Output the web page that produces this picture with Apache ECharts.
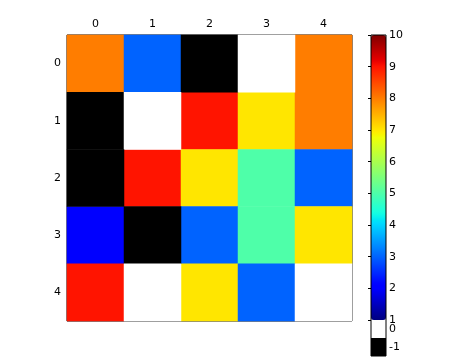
<!DOCTYPE html>
<html>
<head>
<meta charset="utf-8">
<script src="https://cdn.jsdelivr.net/npm/echarts@6/dist/echarts.min.js"></script>
<style>
html,body{margin:0;padding:0;background:#fff;}
#chart{width:474px;height:357px;}
</style>
</head>
<body>
<div id="chart"></div>
<script>
var cols = ['0', '1', '2', '3', '4'];
var rows = ['0', '1', '2', '3', '4'];
// matrix values, -1 = black, 0 = white
var row0 = [8, 3, -1, 0, 8];
var row1 = [-1, 0, 9, 7, 8];
var row2 = [-1, 9, 7, 5, 3];
var row3 = [2, -1, 3, 5, 7];
var row4 = [9, 0, 7, 3, 0];
var matrix = [row0, row1, row2, row3, row4];
var barTicks = [1, 2, 3, 4, 5, 6, 7, 8, 9, 10];

// jet colormap (matplotlib segment data)
function seg(pts, t){
    for (var i = 1; i < pts.length; i++) {
        if (t <= pts[i][0]) {
            var a = pts[i-1], b = pts[i];
            return a[1] + (b[1] - a[1]) * (t - a[0]) / (b[0] - a[0]);
        }
    }
    return pts[pts.length-1][1];
}
var jr = [[0,0],[0.35,0],[0.66,1],[0.89,1],[1,0.5]];
var jg = [[0,0],[0.125,0],[0.375,1],[0.64,1],[0.91,0],[1,0]];
var jb = [[0,0.5],[0.11,1],[0.34,1],[0.65,0],[1,0]];
var jet = [];
for (var k = 0; k <= 100; k++) {
    var t = k / 100;
    jet.push('rgb(' + Math.round(seg(jr,t)*255) + ',' + Math.round(seg(jg,t)*255) + ',' + Math.round(seg(jb,t)*255) + ')');
}

var colorData = [], extData = [];
matrix.forEach(function(r, y){
    r.forEach(function(v, x){
        if (v >= 1) colorData.push([x, y, v]); else extData.push([x, y, v]);
    });
});

var font = {fontFamily: 'DejaVu Sans', fontSize: 11, color: '#000'};

var myChart = echarts.init(document.getElementById('chart'));
var option = {
    animation: false,
    grid: [
        {left: 67, top: 35, width: 285, height: 286, show: true, borderColor: '#000', borderWidth: 1, backgroundColor: 'transparent'},
        {left: 371, top: 35, width: 15, height: 285}
    ],
    xAxis: [
        {type: 'category', data: cols, position: 'top', gridIndex: 0,
         axisLine: {show: false}, axisTick: {show: true, inside: true, alignWithLabel: true, length: 4, lineStyle: {color: '#000'}},
         axisLabel: Object.assign({margin: 5}, font), splitLine: {show: false}},
        {type: 'category', data: cols, position: 'bottom', gridIndex: 0,
         axisLine: {show: false}, axisTick: {show: true, inside: true, alignWithLabel: true, length: 4, lineStyle: {color: '#000'}},
         axisLabel: {show: false}},
        {type: 'value', gridIndex: 1, show: false}
    ],
    yAxis: [
        {type: 'category', data: rows, inverse: true, gridIndex: 0,
         axisLine: {show: false}, axisTick: {show: true, inside: true, alignWithLabel: true, length: 4, lineStyle: {color: '#000'}},
         axisLabel: Object.assign({margin: 6}, font), splitLine: {show: false}},
        {type: 'category', data: rows, inverse: true, position: 'right', gridIndex: 0,
         axisLine: {show: false}, axisTick: {show: true, inside: true, alignWithLabel: true, length: 4, lineStyle: {color: '#000'}},
         axisLabel: {show: false}},
        {type: 'value', gridIndex: 1, min: 1, max: 10, interval: 1, position: 'right',
         axisLine: {show: false}, splitLine: {show: false},
         axisTick: {show: true, inside: true, length: 3, lineStyle: {color: '#000'}},
         axisLabel: Object.assign({margin: 3}, font)}
    ],
    visualMap: [
        {type: 'continuous', seriesIndex: 0, min: 1, max: 10, calculable: false,
         left: 371, top: 35, itemWidth: 15, itemHeight: 285, padding: 0,
         inRange: {color: jet}, text: null, showLabel: false},
        {type: 'piecewise', seriesIndex: 1, left: 371, top: 320, orient: 'vertical',
         itemWidth: 15, itemHeight: 18, itemGap: 0, padding: 0, itemSymbol: 'rect',
         align: 'left', textGap: 3, selectedMode: false,
         textStyle: Object.assign({padding: [6, 0, 0, 0]}, font),
         pieces: [{value: 0, label: '0', color: '#ffffff'}, {value: -1, label: '-1', color: '#000000'}]}
    ],
    graphic: [
        {type: 'rect', shape: {x: 371, y: 35, width: 15, height: 321}, style: {fill: 'none', stroke: '#000', lineWidth: 1}, z: 100}
    ],
    series: [
        {type: 'heatmap', xAxisIndex: 0, yAxisIndex: 0, data: colorData},
        {type: 'heatmap', xAxisIndex: 0, yAxisIndex: 0, data: extData}
    ]
};
myChart.setOption(option);
</script>
</body>
</html>
